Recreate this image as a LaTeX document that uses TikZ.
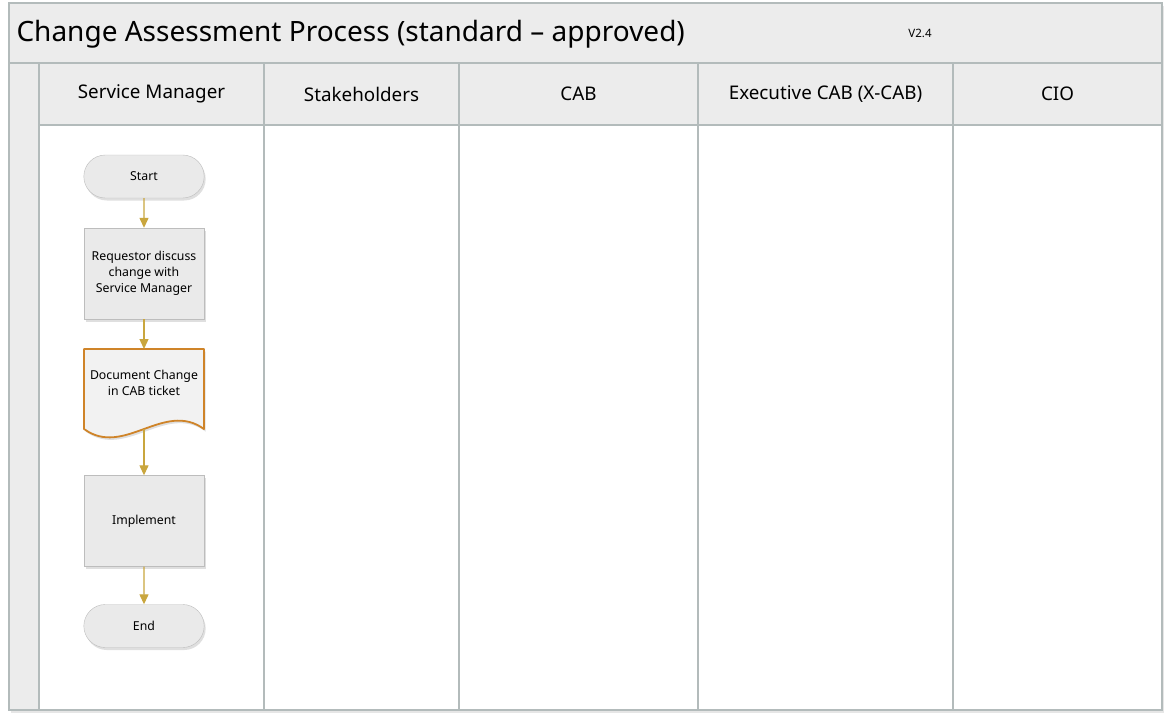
\documentclass[tikz,border=0pt]{standalone}
\usepackage{fontspec}
\setmainfont{Noto Sans}
\usetikzlibrary{shapes.misc,shadows,arrows.meta}

\definecolor{bandfill}{HTML}{ECECEC}
\definecolor{laneline}{HTML}{B3BBBB}
\definecolor{shapefill}{HTML}{EAEAEA}
\definecolor{shapeline}{HTML}{BDBDBD}
\definecolor{docline}{HTML}{CF8429}
\definecolor{docfill}{HTML}{F2F2F2}
\definecolor{flowgold}{HTML}{C9A63E}

\begin{document}
\begin{tikzpicture}[x=1pt, y=-1pt,
	lane/.style = {draw = laneline, line width = 1.4pt},
	shade/.style = {drop shadow = {opacity = 0.25, shadow xshift = 1.5pt, shadow yshift = -2.5pt}},
	terminal/.style = {rounded rectangle, draw = shapeline, fill = shapefill, shade, minimum width = 127pt, minimum height = 43pt, font = \fontsize{12.3}{16}\selectfont},
	task/.style = {rectangle, draw = shapeline, fill = shapefill, shade, minimum width = 120pt, minimum height = 91pt, align = center, font = \fontsize{12.3}{16}\selectfont},
	doctext/.style = {align = center, font = \fontsize{12.3}{16}\selectfont},
	flow/.style = {draw = flowgold, line width = 1.3pt, -{Triangle[length = 10pt, width = 9pt]}},
	lanehead/.style = {font = \fontsize{18.8}{22}\selectfont}]
	\useasboundingbox (0, 0) rectangle (1169, 718);
	
	% pool
	\fill[bandfill, drop shadow = {opacity = 0.2, shadow xshift = 2pt, shadow yshift = -3pt}] (9, 3) rectangle (1162, 710);
	\fill[white] (39, 125) rectangle (1162, 710);
	\draw[lane] (9, 3) rectangle (1162, 710);
	\draw[lane] (9, 63) -- (1162, 63);
	\draw[lane] (39, 125) -- (1162, 125);
	\draw[lane] (39, 63) -- (39, 710);
	\foreach \x in {264, 459, 698, 953}
	\draw[lane] (\x, 63) -- (\x, 710);
	
	\node[anchor = west, font = \fontsize{28}{34}\selectfont] (title) at (13, 34) {Change Assessment Process (standard – approved)};
	\node[font = \fontsize{11.5}{14}\selectfont] (version) at (920, 33) {V2.4};
	
	% lane headers
	\node[lanehead] (manager) at (151.5, 94) {Service Manager};
	\node[lanehead] (stakeholders) at (361.5, 94) {Stakeholders};
	\node[lanehead] (cab) at (578.5, 94) {CAB};
	\node[lanehead] (xcab) at (825.5, 94) {Executive CAB (X-CAB)};
	\node[lanehead] (cio) at (1057.5, 94) {CIO};
	
	% steps
	\node[terminal] (start) at (144, 176.5) {Start};
	\node[task] (discuss) at (144, 273.5) {Requestor discuss\\change with\\Service Manager};
	
	\fill[docfill, shade] (84, 349) -- (204, 349) -- (204, 429) .. controls (164, 400) and (124, 458) .. (84, 429) -- cycle;
	\draw[docline, line width = 1.8pt, line join = round] (84, 349) -- (204, 349) -- (204, 429) .. controls (164, 400) and (124, 458) .. (84, 429) -- cycle;
	\coordinate (doctop) at (144, 349);
	\coordinate (docwave) at (144, 429);
	\node[doctext] (document) at (144, 383) {Document Change\\in CAB ticket};
	
	\node[task] (implement) at (144, 521) {Implement};
	\node[terminal] (finish) at (144, 626) {End};
	
	\draw[flow] (start) -- (discuss);
	\draw[flow] (discuss) -- (doctop);
	\draw[flow] (docwave) -- (implement);
	\draw[flow] (implement) -- (finish);
\end{tikzpicture}
\end{document}
